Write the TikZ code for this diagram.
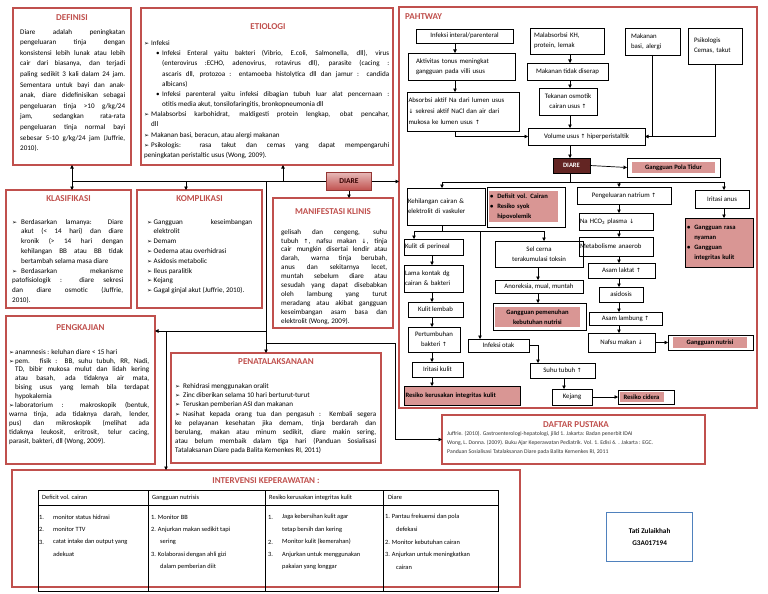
\documentclass[tikz,border=0pt]{standalone}
\usepackage{fontspec}
\setmainfont{Carlito}
\newfontfamily\dejavu{DejaVu Sans}
\usetikzlibrary{arrows.meta}
\definecolor{accred}{HTML}{C0504D}
\definecolor{pinkf}{HTML}{D99694}
\definecolor{maroonb}{HTML}{632523}
\definecolor{blueb}{HTML}{4F81BD}
\definecolor{darkr}{HTML}{943634}
\definecolor{lightr}{HTML}{E6B8B7}
\newcommand\up{{\dejavu\fontsize{5.8}{5}\selectfont ↑}}
\newcommand\dn{{\dejavu\fontsize{5.8}{5}\selectfont ↓}}
\newcommand\arw{{\dejavu\fontsize{6}{5}\selectfont ➢}}
\newcommand\IA[2]{\par\noindent\hangindent=#1\relax\hangafter=1\relax\makebox[#1][l]{\arw}#2}
\newcommand\IB[3]{\par\noindent\hangindent=\dimexpr#1+#2\relax\hangafter=1\relax\hspace*{#1}\makebox[#2][l]{\textbullet}#3}
\begin{document}
\begin{tikzpicture}[x=1pt,y=-1pt,
  redbox/.style={draw=accred, line width=2.2pt, anchor=north west, inner sep=0pt, outer sep=0pt},
  ttl/.style={text=accred, font=\fontsize{9}{10}\selectfont\bfseries, inner sep=0pt},
  body/.style={anchor=north west, inner sep=0pt, align=justify, execute at begin node={\tolerance=10000 \hyphenpenalty=10000 \exhyphenpenalty=10000 }, font=\fontsize{7}{9.3}\selectfont},
  pb/.style={draw=black, line width=0.7pt, inner sep=0pt, outer sep=0pt, align=center, font=\fontsize{6.8}{10}\selectfont},
  pk/.style={pb, fill=pinkf, font=\fontsize{6.6}{10}\selectfont\bfseries},
  arr/.style={-{Triangle[length=3.5pt,width=3.5pt]}, line width=0.7pt},
  ln/.style={line width=0.7pt},
  tt/.style={anchor=west, inner sep=0pt, font=\fontsize{6.4}{7}\selectfont}
]
\useasboundingbox (0,0) rectangle (768,594);
\fill[white] (0,0) rectangle (768,594);

% ---------- red boxes ----------
\node[redbox, minimum width=118pt, minimum height=157pt] (def) at (13,8) {};
\node[ttl] (tdef) at (72,18) {DEFINISI};
\node[body, text width=105pt, font=\fontsize{7.1}{10.6}\selectfont] (bdef) at (20,29) {Diare adalah peningkatan\linebreak pengeluaran tinja dengan\linebreak konsistensi lebih lunak atau lebih\linebreak cair dari biasanya, dan terjadi\linebreak paling sedikit 3 kali dalam 24 jam.\linebreak Sementara untuk bayi dan anak-\linebreak anak, diare didefinisikan sebagai\linebreak pengeluaran tinja >10 g/kg/24\linebreak jam, sedangkan rata-rata\linebreak pengeluaran tinja normal bayi\linebreak sebesar 5-10 g/kg/24 jam (Juffrie,\linebreak 2010).};

\node[redbox, minimum width=252pt, minimum height=157pt] (eti) at (141,8) {};
\node[ttl] (teti) at (268,27) {ETIOLOGI};
\node[body, text width=245pt, font=\fontsize{7.1}{10.2}\selectfont] (beti) at (144,35) {%
\IA{7pt}{Infeksi}
\IB{12pt}{6pt}{Infeksi Enteral yaitu bakteri (Vibrio, E.coli, Salmonella, dll), virus\linebreak (enterovirus :ECHO, adenovirus, rotavirus dll), parasite (cacing :\linebreak ascaris dll, protozoa : entamoeba histolytica dll dan jamur : candida\linebreak albicans)}
\IB{12pt}{6pt}{Infeksi parenteral yaitu infeksi dibagian tubuh luar alat pencernaan :\linebreak otitis media akut, tonsilofaringitis, bronkopneumonia dll}
\IA{7pt}{Malabsorbsi karbohidrat, maldigesti protein lengkap, obat pencahar,\linebreak dll}
\IA{7pt}{Makanan basi, beracun, atau alergi makanan}
\IA{7pt}{Psikologis: rasa takut dan cemas yang dapat mempengaruhi\linebreak peningkatan peristaltic usus (Wong, 2009).}};

\node[redbox, minimum width=125pt, minimum height=118pt] (kla) at (6,190) {};
\node[ttl] (tkla) at (68.5,199) {KLASIFIKASI};
\node[body, text width=111pt, font=\fontsize{7.1}{9.8}\selectfont] (bkla) at (12,214) {%
\IA{9pt}{Berdasarkan lamanya: Diare\linebreak akut (< 14 hari) dan diare\linebreak kronik (> 14 hari dengan\linebreak kehilangan BB atau BB tidak\linebreak bertambah selama masa diare}
\IA{9pt}{Berdasarkan mekanisme\linebreak patofisiologik : diare sekresi\linebreak dan diare osmotic (Juffrie,\linebreak 2010).}};

\node[redbox, minimum width=125pt, minimum height=118pt] (kom) at (137,190) {};
\node[ttl] (tkom) at (199.5,199) {KOMPLIKASI};
\node[body, text width=105pt, font=\fontsize{7.1}{9.8}\selectfont] (bkom) at (147,214) {%
\IA{6.5pt}{Gangguan keseimbangan\linebreak elektrolit}
\IA{6.5pt}{Demam}
\IA{6.5pt}{Oedema atau overhidrasi}
\IA{6.5pt}{Asidosis metabolic}
\IA{6.5pt}{Ileus paralitik}
\IA{6.5pt}{Kejang}
\IA{6.5pt}{Gagal ginjal akut (Juffrie, 2010).}};

\node[draw=darkr, line width=0.8pt, top color=lightr, bottom color=accred, minimum width=45pt, minimum height=18pt, inner sep=0pt, text=black!80!red, font=\fontsize{7.5}{8}\selectfont\bfseries] (cd) at (349,181.5) {DIARE};

\node[redbox, minimum width=120pt, minimum height=130pt] (man) at (273,198) {};
\node[ttl] (tman) at (333,212) {MANIFESTASI KLINIS};
\node[body, text width=106pt, font=\fontsize{7.1}{8.9}\selectfont] (bman) at (281,229) {gelisah dan cengeng, suhu\linebreak tubuh \up, nafsu makan \dn, tinja\linebreak cair mungkin disertai lendir atau\linebreak darah, warna tinja berubah,\linebreak anus dan sekitarnya lecet,\linebreak muntah sebelum diare atau\linebreak sesudah yang dapat disebabkan\linebreak oleh lambung yang turut\linebreak meradang atau akibat gangguan\linebreak keseimbangan asam basa dan\linebreak elektrolit (Wong, 2009).};

\node[redbox, minimum width=149pt, minimum height=148pt] (pgk) at (6,316) {};
\node[ttl] (tpgk) at (80.5,328) {PENGKAJIAN};
\node[body, text width=140pt, font=\fontsize{7.1}{8.9}\selectfont] (bpgk) at (9,345) {%
\IA{6pt}{anamnesis : keluhan diare < 15 hari}
\IA{6pt}{pem. fisik : BB, suhu tubuh, RR, Nadi,\linebreak TD, bibir mukosa mulut dan lidah kering\linebreak atau basah, ada tidaknya air mata,\linebreak bising usus yang lemah bila terdapat\linebreak hypokalemia}
\IA{6pt}{laboratorium : makroskopik (bentuk,\linebreak warna tinja, ada tidaknya darah, lender,\linebreak pus) dan mikroskopik (melihat ada\linebreak tidaknya leukosit, eritrosit, telur cacing,\linebreak parasit, bakteri, dll (Wong, 2009).}};

\node[redbox, minimum width=210pt, minimum height=110pt] (pen) at (171,353) {};
\node[ttl] (tpen) at (276,362) {PENATALAKSANAAN};
\node[body, text width=201pt, font=\fontsize{7.1}{9.2}\selectfont] (bpen) at (175,379) {%
\IA{8pt}{Rehidrasi menggunakan oralit}
\IA{8pt}{Zinc diberikan selama 10 hari berturut-turut}
\IA{8pt}{Teruskan pemberian ASI dan makanan}
\IA{8pt}{Nasihat kepada orang tua dan pengasuh : Kembali segera\linebreak ke pelayanan kesehatan jika demam, tinja berdarah dan\linebreak berulang, makan atau minum sedikit, diare makin sering,\linebreak atau belum membaik dalam tiga hari (Panduan Sosialisasi\linebreak Tatalaksanan Diare pada Balita Kemenkes RI, 2011)}};

\node[redbox, minimum width=358pt, minimum height=401pt] (pw) at (399,7) {};
\node[ttl, anchor=west] (tpw) at (405,17) {PAHTWAY};

\node[redbox, minimum width=263pt, minimum height=49pt] (dpu) at (442,415) {};
\node[ttl] (tdpu) at (576,425) {DAFTAR PUSTAKA};
\node[anchor=north west, inner sep=0pt, align=left, font=\fontsize{5.7}{9}\selectfont, text=black!80] (bdpu) at (447,431) {Juffrie. (2010). Gastroenterologi-hepatologi, jilid 1. Jakarta: Badan penerbit IDAI\\Wong, L. Donna. (2009). Buku Ajar Keperawatan Pediatrik. Vol. 1. Edisi 6. . Jakarta : EGC.\\Panduan Sosialisasi Tatalaksanan Diare pada Balita Kemenkes RI, 2011};

\node[redbox, minimum width=508pt, minimum height=117pt] (itv) at (12,470) {};
\node[ttl] (titv) at (266,481) {INTERVENSI KEPERAWATAN :};

\node[draw=blueb, line width=1.3pt, minimum width=86pt, minimum height=49pt, anchor=north west, inner sep=0pt, align=center, font=\fontsize{7.2}{12}\selectfont\bfseries] (tati) at (606,512) {Tati Zulaikhah\\G3A017194};

% ---------- table ----------
\draw[line width=0.8pt] (38,490) rectangle (498,591);
\draw[line width=0.8pt] (38,505) -- (498,505) (148,490) -- (148,591) (265,490) -- (265,591) (383,490) -- (383,591);
\node[tt] (th1) at (42,497.5) {Deficit vol. cairan};
\node[tt] (th2) at (152,497.5) {Gangguan nutrisis};
\node[tt] (th3) at (269,497.5) {Resiko kerusakan integritas kulit};
\node[tt] (th4) at (388,497.5) {Diare};
\node[tt] (n11) at (39,517) {1.};   \node[tt] (c11) at (53,517) {monitor status hidrasi};
\node[tt] (n12) at (39,529.5) {2.}; \node[tt] (c12) at (53,529.5) {monitor TTV};
\node[tt] (n13) at (39,542) {3.};   \node[tt] (c13) at (53,542) {catat intake dan output yang};
\node[tt] (c14) at (53,554.5) {adekuat};
\node[tt] (c21) at (151,517) {1. Monitor BB};
\node[tt] (c22) at (151,529.5) {2. Anjurkan makan sedikit tapi};
\node[tt] (c23) at (160,542) {sering};
\node[tt] (c24) at (151,554.5) {3. Kolaborasi dengan ahli gizi};
\node[tt] (c25) at (160,567) {dalam pemberian diit};
\node[tt] (n31) at (268,517) {1.};   \node[tt] (c31) at (282,517) {Jaga kebersihan kulit agar};
\node[tt] (c32) at (282,529.5) {tetap bersih dan kering};
\node[tt] (n33) at (268,542) {2.};   \node[tt] (c33) at (282,542) {Monitor kulit (kemerahan)};
\node[tt] (n34) at (268,554.5) {3.}; \node[tt] (c34) at (282,554.5) {Anjurkan untuk menggunakan};
\node[tt] (c35) at (282,567) {pakaian yang longgar};
\node[tt] (c41) at (385,517) {1. Pantau frekuensi dan pola};
\node[tt] (c42) at (396,529.5) {defekasi};
\node[tt] (c43) at (385,542) {2. Monitor kebutuhan cairan};
\node[tt] (c44) at (385,554.5) {3. Anjurkan untuk meningkatkan};
\node[tt] (c45) at (396,567) {cairan};

% ---------- pathway nodes ----------
\node[pb, minimum width=97pt, minimum height=14pt] (inf) at (464.5,36) {Infeksi interal/parenteral};
\node[pb, minimum width=107pt, minimum height=27pt, text width=91pt, align=left] (akt) at (461.5,66.5) {Aktivitas tonus meningkat\\gangguan pada villi usus};
\node[pb, minimum width=112pt, minimum height=39pt, text width=109pt, align=left, font=\fontsize{6.8}{11}\selectfont] (abs) at (463,111.5) {Absorbsi aktif Na dari lumen usus\\\dn{} sekresi aktif NaCl dan air dari\\mukosa ke lumen usus \up};
\node[pb, minimum width=74pt, minimum height=26pt, text width=66pt, align=left] (mal) at (567,41) {Malabsorbsi KH,\\protein, lemak};
\node[pb, minimum width=81pt, minimum height=17pt] (mtd) at (567.5,71.5) {Makanan tidak diserap};
\node[pb, minimum width=58pt, minimum height=27pt] (tek) at (568,101.5) {Tekanan osmotik\\cairan usus \up};
\node[pb, minimum width=55pt, minimum height=27pt, text width=43pt, align=left] (mkb) at (652.5,41.5) {Makanan\\basi, alergi};
\node[pb, minimum width=54pt, minimum height=36pt, text width=42pt, align=left] (psi) at (715,46) {Psikologis\\Cemas, takut};
\node[pb, minimum width=117pt, minimum height=17pt] (vol) at (586.5,136.5) {Volume usus \up{} hiperperistaltik};
\node[pb, fill=maroonb, text=white, minimum width=37pt, minimum height=15pt, font=\fontsize{6.6}{8}\selectfont\bfseries] (dp) at (571.5,165.5) {DIARE};
\node[pb, minimum width=93pt, minimum height=19pt] (gpt) at (673.5,167.5) {};
\node[pk, draw=none, minimum width=83pt, minimum height=11pt] (gpti) at (673.5,167.5) {Gangguan Pola Tidur};

\node[pb, minimum width=78pt, minimum height=37pt, text width=76pt, align=left] (keh) at (446,206.5) {Kehilangan cairan \&\\elektrolit di vaskuler};
\node[pb, minimum width=78pt, minimum height=40pt] (dfs) at (526,207) {};
\node[pk, draw=none, minimum width=69pt, minimum height=31pt, text width=67pt, align=left] (dfsi) at (523.5,206.5) {\textbullet\hspace{4pt}Defisit vol. Cairan\\\textbullet\hspace{4pt}Resiko syok\\\hphantom{\textbullet\hspace{4pt}}hipovolemik};

\node[pb, minimum width=59pt, minimum height=16pt, text width=57pt, align=left] (kpr) at (433.5,247) {Kulit di perineal};
\node[pb, minimum width=59pt, minimum height=27pt, text width=57pt, align=left] (lama) at (433.5,278.5) {Lama kontak dg\\cairan \& bakteri};
\node[pb, minimum width=55pt, minimum height=15pt] (klb) at (435.5,309.5) {Kulit lembab};
\node[pb, minimum width=52pt, minimum height=25pt] (pert) at (434,339.5) {Pertumbuhan\\bakteri \up};
\node[pb, minimum width=51pt, minimum height=15pt] (irk) at (437.5,369.5) {Iritasi kulit};
\node[pk, minimum width=116pt, minimum height=19pt, text width=113pt, align=left] (rki) at (462,395.5) {Resiko kerusakan integritas kulit};

\node[pb, minimum width=88pt, minimum height=26pt] (sel) at (539,254) {Sel cerna\\terakumulasi toksin};
\node[pb, minimum width=88pt, minimum height=13pt] (ano) at (539,286.5) {Anoreksia, mual, muntah};
\node[pb, minimum width=93pt, minimum height=27pt] (ggn) at (539.5,316.5) {};
\node[pk, draw=none, minimum width=85pt, minimum height=20pt] (ggni) at (537.5,317) {Gangguan pemenuhan\\kebutuhan nutrisi};
\node[pb, minimum width=61pt, minimum height=13pt] (iot) at (498.5,345.5) {Infeksi otak};
\node[pb, minimum width=65pt, minimum height=15pt] (suh) at (562.5,370.5) {Suhu tubuh \up};
\node[pb, minimum width=40pt, minimum height=16pt] (kej) at (572,397) {Kejang};
\node[pb, minimum width=56pt, minimum height=14pt] (rcd) at (646,397) {};
\node[pk, draw=none, minimum width=44pt, minimum height=10pt] (rcdi) at (641.5,397) {Resiko cidera};

\node[pb, minimum width=94pt, minimum height=17pt] (pna) at (624,195.5) {Pengeluaran natrium \up};
\node[pb, minimum width=74pt, minimum height=17pt, text width=72pt, align=left] (nah) at (616,221.5) {Na HCO\textsubscript{3} plasma \dn};
\node[pb, minimum width=74pt, minimum height=19pt, text width=72pt, align=left] (met) at (616,246.5) {Metabolisme anaerob};
\node[pb, minimum width=67pt, minimum height=15pt] (asl) at (621.5,270.5) {Asam laktat \up};
\node[pb, minimum width=44pt, minimum height=15pt] (asi) at (621,294.5) {asidosis};
\node[pb, minimum width=73pt, minimum height=13pt] (asb) at (625.5,318.5) {Asam lambung \up};
\node[pb, minimum width=67pt, minimum height=19pt] (naf) at (621.5,342.5) {Nafsu makan \dn};
\node[pb, minimum width=85pt, minimum height=15pt] (gnu) at (710.5,342.5) {};
\node[pk, draw=none, minimum width=74pt, minimum height=11pt] (gnui) at (710,342.5) {Gangguan nutrisi};
\node[pb, minimum width=54pt, minimum height=18pt] (ira) at (722,199) {Iritasi anus};
\node[pk, minimum width=68pt, minimum height=49pt, text width=64pt, align=left] (grn) at (719,242.5) {\textbullet\hspace{4pt}Gangguan rasa\\\hphantom{\textbullet\hspace{4pt}}nyaman\\\textbullet\hspace{4pt}Gangguan\\\hphantom{\textbullet\hspace{4pt}}integritas kulit};

% ---------- connectors: center ----------
\coordinate (h0) at (72,181.5);
\coordinate (h1) at (186,181.5);
\coordinate (h2) at (283,181.5);
\coordinate (v0) at (266,181.5);
\coordinate (v1) at (266,331);
\coordinate (v2) at (266,343);
\coordinate (w0) at (166,331);
\coordinate (r0) at (395,343);
\draw[ln] (h0) -- (cd.west);
\draw[arr] (h0) -- (h0 |- def.south);
\draw[arr] (h0) -- (h0 |- kla.north);
\draw[arr] (h1) -- (h1 |- kom.north);
\draw[arr] (h2) -- (h2 |- eti.south);
\draw[ln] (v0) -- (v2) -- (r0);
\draw[arr] (v2) -- (v2 |- pen.north);
\draw[arr] (v1) -- (v1 -| pgk.east);
\draw[arr] (w0) -- (w0 |- itv.north);
\draw[arr] (r0) |- (dpu.west);
\draw[arr] (cd.east) -- (cd.east -| pw.west);
\draw[arr] (cd.south) -- (cd.south |- man.north);

% ---------- connectors: pathway ----------
\coordinate (cA) at (455,0);
\coordinate (cB) at (570,0);
\coordinate (cL) at (432,0);
\coordinate (cS) at (538,0);
\coordinate (cN) at (619,0);
\coordinate (cI) at (724,0);
\coordinate (cK) at (564,0);
\coordinate (cP) at (414,0);
\coordinate (cO) at (480,0);
\coordinate (cE) at (544,0);
\coordinate (cH) at (442,0);
\coordinate (rD) at (0,182);
\coordinate (rK) at (0,231);

\draw[arr] (cA |- inf.south) -- (cA |- akt.north);
\draw[arr] (cA |- akt.south) -- (cA |- abs.north);
\draw[arr] (cA |- abs.south) |- (vol.west);
\draw[arr] (cB |- mal.south) -- (cB |- mtd.north);
\draw[arr] (cB |- mtd.south) -- (cB |- tek.north);
\draw[arr] (cB |- tek.south) -- (cB |- vol.north);
\draw[arr] (mkb.south) |- (vol.east);
\draw[ln] (psi.south) |- (mkb.south |- vol.east);
\draw[arr] (cB |- vol.south) -- (cB |- dp.north);
\draw[arr] (dp.east) -- (gpt.west);
\draw[ln] (cB |- dp.south) -- (cB |- rD);
\draw[ln] (cH |- rD) -- (cI |- rD);
\draw[arr] (cH |- rD) -- (cH |- keh.north);
\draw[arr] (cN |- rD) -- (cN |- pna.north);
\draw[arr] (cI |- rD) -- (cI |- ira.north);
\draw[arr] (cI |- ira.south) -- (cI |- grn.north);
\foreach \a/\b in {pna/nah, nah/met, met/asl, asl/asi, asi/asb, asb/naf}
  \draw[arr] (cN |- \a.south) -- (cN |- \b.north);
\draw[arr] (naf.east) -- (gnu.west);
\draw[ln] (cH |- keh.south) -- (cH |- rK);
\draw[ln] (cP |- rK) -- (cE |- rK);
\draw[arr] (cP |- rK) -- (cP |- kpr.north);
\draw[arr] (cO |- rK) -- (cO |- iot.north);
\draw[arr] (cE |- rK) -- (cE |- sel.north);
\foreach \a/\b in {kpr/lama, lama/klb, klb/pert, pert/irk, irk/rki}
  \draw[arr] (cL |- \a.south) -- (cL |- \b.north);
\draw[arr] (cS |- sel.south) -- (cS |- ano.north);
\draw[arr] (cS |- ano.south) -- (cS |- ggn.north);
\draw[arr] (iot.east) -| (cS |- suh.north);
\draw[arr] (cK |- suh.south) -- (cK |- kej.north);
\draw[arr] (kej.east) -- (rcd.west);
\end{tikzpicture}
\end{document}
